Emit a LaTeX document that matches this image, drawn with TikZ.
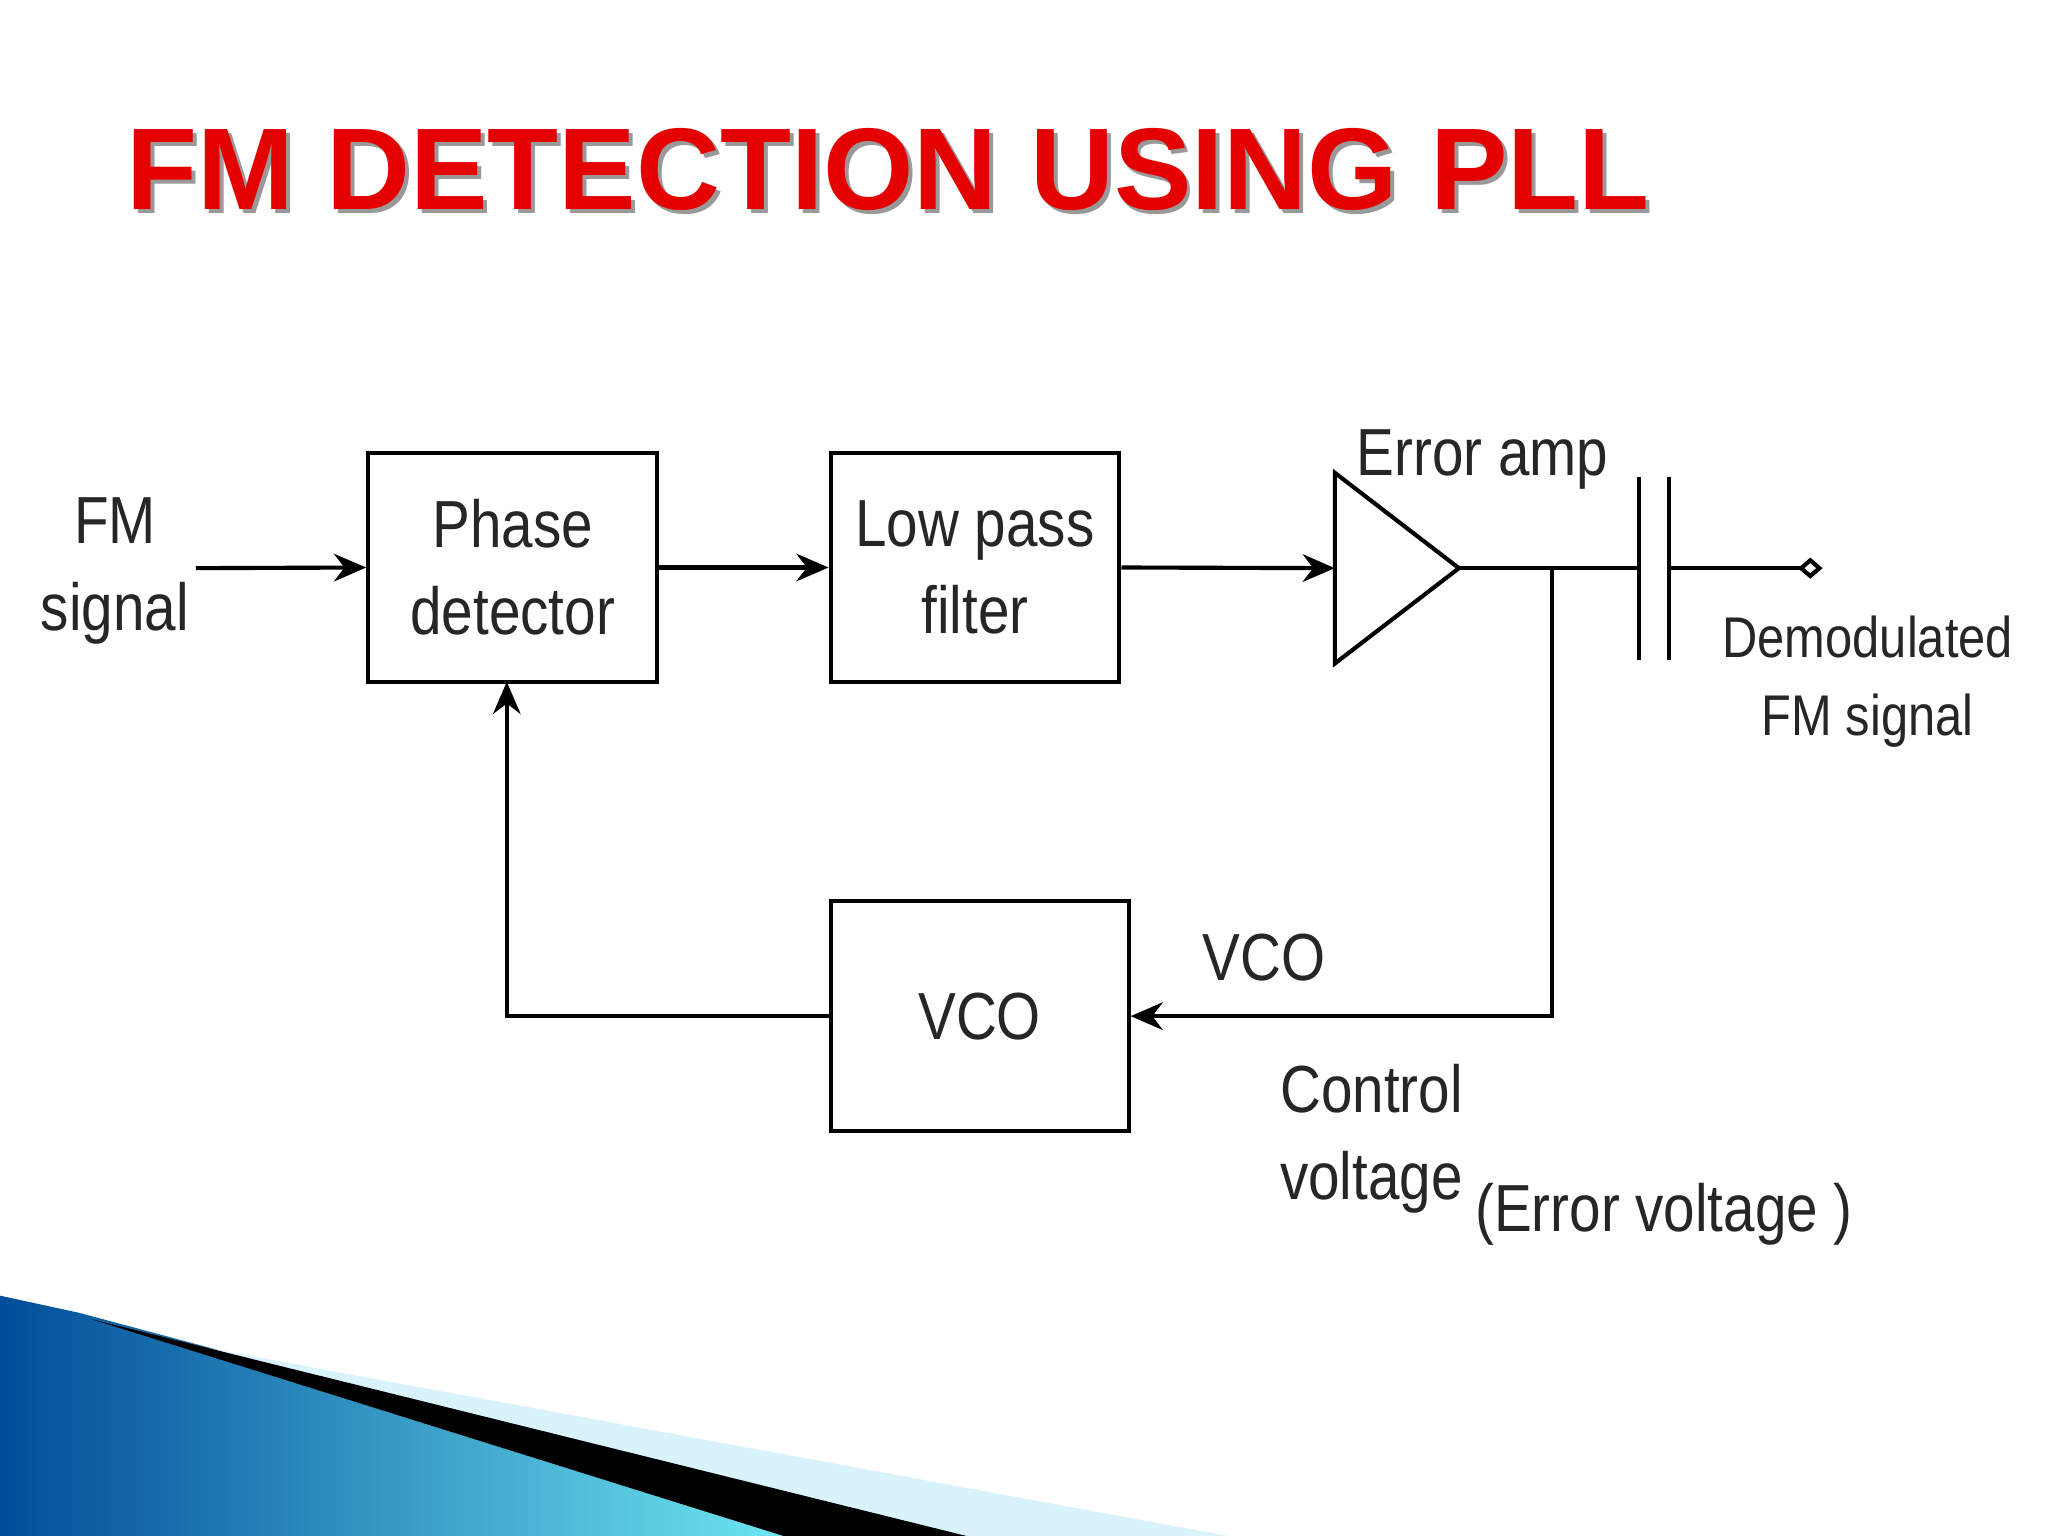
\documentclass[tikz,border=0pt]{standalone}
\usepackage{fontspec}
\setmainfont{Liberation Sans}
\newfontfamily\nar{Liberation Sans}[FakeStretch=0.85]
\usetikzlibrary{arrows.meta,shapes.geometric}
\begin{document}
\begin{tikzpicture}[x=0.01cm,y=-0.01cm,
  box/.style={draw,line width=0.9pt,inner sep=0},
  lbl/.style={font=\nar\fontsize{14.5}{19}\selectfont,align=center,text=black!85},
  arr/.style={line width=0.9pt,-{Stealth[length=7pt,width=6pt]}},
  ln/.style={line width=0.9pt}]
\useasboundingbox (0,0) rectangle (1568,1176);
\fill[white] (0,0) rectangle (1568,1176);
% bottom decoration
\shade[left color=blue!50!cyan!60!black, right color=cyan!50!white] (0,992) -- (60,1005) -- (700,1176) -- (0,1176) -- cycle;
\fill[cyan!15] (120,1025) -- (940,1176) -- (720,1176) -- cycle;
\fill[black] (70,1010) -- (740,1176) -- (600,1176) -- cycle;
% title
\node[font=\bfseries\fontsize{25.3}{30}\selectfont,text=black!40] (shadow) at (683,133) {FM DETECTION USING PLL};
\node[font=\bfseries\fontsize{25.3}{30}\selectfont,text=red!90!black] (title) at (680,130) {FM DETECTION USING PLL};
% blocks
\node[box,minimum width=2.21cm,minimum height=1.75cm,lbl] (pd) at (392.5,434.5) {Phase\\detector};
\node[box,minimum width=2.21cm,minimum height=1.75cm,lbl] (lpf) at (746.5,434.5) {Low pass\\filter};
\node[box,minimum width=2.28cm,minimum height=1.76cm,lbl] (vco) at (750,778) {VCO};
\draw[ln] (1022,362) -- (1117,435) -- (1022,508) -- cycle;
\coordinate (tin) at (1022,435);
\coordinate (tout) at (1117,435);
\coordinate (fmin) at (150,435);
\coordinate (c1) at (1255,435);
\coordinate (c2) at (1278,435);
\coordinate (out) at (1379,435);
\coordinate (tap) at (1188,435);
\coordinate (cor1) at (1188,778);
\coordinate (cor2) at (388,778);
% connectors
\draw[arr] (fmin) -- (pd.west);
\draw[arr] (pd.east) -- (lpf.west);
\draw[arr] (lpf.east) -- (tin);
\draw[ln] (tout) -- (c1);
\draw[ln] (1255,365) -- (1255,505);
\draw[ln] (1278,365) -- (1278,505);
\draw[ln] (c2) -- (out);
\draw[line width=0.9pt] (1379,435) -- (1386,429) -- (1393,435) -- (1386,441) -- cycle;
\draw[arr] (tap) -- (cor1) -- (vco.east);
\draw[arr] (vco.west) -- (cor2) -- (388,522);
% labels
\node[lbl] (fm) at (88,437) {FM\\signal};
\node[lbl] (ea) at (1135,352) {Error amp};
\node[lbl,font=\nar\fontsize{12.5}{17}\selectfont] (dm) at (1430,522) {Demodulated\\FM signal};
\node[lbl] (vl) at (968,733) {VCO};
\node[lbl] (cv) at (1050,872) {Control\\voltage};
\node[lbl] (ev) at (1274,930) {(Error voltage )};
\end{tikzpicture}
\end{document}
